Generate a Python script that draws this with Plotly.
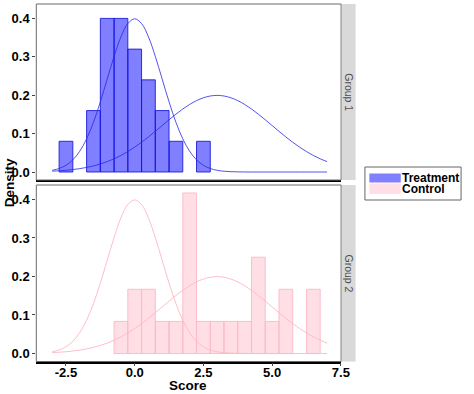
import plotly.graph_objects as go

# ---------------- data ----------------
# Histogram bins (centre of bin, density), bin width 0.5
treat_centers = [-2.5, -1.5, -1.0, -0.5, 0.0, 0.5, 1.0, 1.5, 2.5]
treat_density = [0.08, 0.16, 0.40, 0.40, 0.32, 0.24, 0.16, 0.08, 0.08]

ctrl_centers = [-0.5, 0.0, 0.5, 1.0, 1.5, 2.0, 2.5, 3.0, 3.5, 4.0, 4.5, 5.0, 5.5, 6.5]
ctrl_density = [0.0833, 0.1667, 0.1667, 0.0833, 0.0833, 0.4167, 0.0833, 0.0833,
                0.0833, 0.0833, 0.25, 0.0833, 0.1667, 0.1667]
bin_width = 0.5

# Reference density curves read at x = -3, -2.75, ..., 7
curve_x = [-3.0 + 0.25 * i for i in range(41)]
curve_a = [0.0044, 0.0091, 0.0175, 0.0317, 0.0540, 0.0863, 0.1295, 0.1827, 0.2420,
           0.3011, 0.3521, 0.3867, 0.3989, 0.3867, 0.3521, 0.3011, 0.2420, 0.1827,
           0.1295, 0.0863, 0.0540, 0.0317, 0.0175, 0.0091, 0.0044, 0.0020, 0.0009,
           0.0004, 0.0001, 0.0000, 0.0000, 0.0000, 0.0000, 0.0000, 0.0000, 0.0000,
           0.0000, 0.0000, 0.0000, 0.0000, 0.0000]
curve_b = [0.0022, 0.0032, 0.0045, 0.0064, 0.0088, 0.0119, 0.0159, 0.0209, 0.0270,
           0.0344, 0.0431, 0.0533, 0.0648, 0.0775, 0.0913, 0.1059, 0.1210, 0.1360,
           0.1506, 0.1641, 0.1760, 0.1859, 0.1933, 0.1979, 0.1995, 0.1979, 0.1933,
           0.1859, 0.1760, 0.1641, 0.1506, 0.1360, 0.1210, 0.1059, 0.0913, 0.0775,
           0.0648, 0.0533, 0.0431, 0.0344, 0.0270]

groups = ["Group 1", "Group 2"]
legend_labels = ["Treatment", "Control"]
x_tickvals = [-2.5, 0.0, 2.5, 5.0, 7.5]
x_ticktext = ["-2.5", "0.0", "2.5", "5.0", "7.5"]
y_tickvals = [0.0, 0.1, 0.2, 0.3, 0.4]
y_ticktext = ["0.0", "0.1", "0.2", "0.3", "0.4"]

# ---------------- styling ----------------
W, H = 474, 394
FONT = "Liberation Sans, Arial, sans-serif"
treat_fill = "rgba(0,0,255,0.5)"
treat_line = "rgba(20,20,220,0.85)"
treat_curve = "rgba(40,40,235,0.8)"
ctrl_fill = "rgba(255,192,203,0.5)"
ctrl_line = "rgba(250,185,198,0.9)"
ctrl_curve = "rgba(255,185,198,0.95)"

def px_x(p):
    return p / W

def px_y(p):
    return 1 - p / H

def bold(labels):
    return ["<b>%s</b>" % s for s in labels]

X0, X1 = 37, 347.7
panels = [(4, 180), (185, 361.5)]

fig = go.Figure()

# top panel: Treatment
fig.add_trace(go.Bar(x=treat_centers, y=treat_density, width=bin_width,
                     marker=dict(color=treat_fill, line=dict(color=treat_line, width=1)),
                     xaxis="x", yaxis="y", showlegend=False))
for cy in (curve_a, curve_b):
    fig.add_trace(go.Scatter(x=curve_x, y=cy, mode="lines",
                             line=dict(color=treat_curve, width=1, shape="spline"),
                             xaxis="x", yaxis="y", showlegend=False))

# bottom panel: Control
fig.add_trace(go.Bar(x=ctrl_centers, y=ctrl_density, width=bin_width,
                     marker=dict(color=ctrl_fill, line=dict(color=ctrl_line, width=1)),
                     xaxis="x2", yaxis="y2", showlegend=False))
for cy in (curve_a, curve_b):
    fig.add_trace(go.Scatter(x=curve_x, y=cy, mode="lines",
                             line=dict(color=ctrl_curve, width=1, shape="spline"),
                             xaxis="x2", yaxis="y2", showlegend=False))

xr = [-3.58, 7.51]
yr = [-0.0208, 0.4375]
tickfont = dict(family=FONT, size=13, color="black", weight="bold")

common_x = dict(range=xr, domain=[px_x(X0), px_x(X1)], showgrid=False, zeroline=False,
                showline=True, linecolor="black", linewidth=1.5, mirror=False,
                tickvals=x_tickvals, ticktext=bold(x_ticktext), tickfont=tickfont)
common_y = dict(range=yr, showgrid=False, zeroline=False, showline=False,
                tickvals=y_tickvals, ticktext=bold(y_ticktext), tickfont=tickfont,
                ticks="outside", ticklen=3, tickcolor="#444", tickwidth=1)

fig.update_layout(
    width=W, height=H, margin=dict(l=0, r=0, t=0, b=0),
    paper_bgcolor="white", plot_bgcolor="white",
    barmode="overlay", showlegend=False,
    xaxis=dict(common_x, anchor="y", showticklabels=False, ticks=""),
    yaxis=dict(common_y, anchor="x", domain=[px_y(panels[0][1]), px_y(panels[0][0])]),
    xaxis2=dict(common_x, anchor="y2", ticks="outside", ticklen=3, tickcolor="#444",
                ticklabelstandoff=-5, matches="x"),
    yaxis2=dict(common_y, anchor="x2", domain=[px_y(panels[1][1]), px_y(panels[1][0])]),
)

shapes = []
annotations = []
for i, (top, bot) in enumerate(panels):
    xa = "x domain" if i == 0 else "x2 domain"
    ya = "y domain" if i == 0 else "y2 domain"
    # panel border
    shapes.append(dict(type="rect", xref=xa, yref=ya, x0=0, x1=1, y0=0, y1=1,
                       line=dict(color="#6a6a6a", width=1), layer="above"))
    # strip
    shapes.append(dict(type="rect", xref="paper", yref="paper",
                       x0=px_x(348.5), x1=px_x(362.5), y0=px_y(bot), y1=px_y(top),
                       fillcolor="#D9D9D9", line=dict(width=0)))
    annotations.append(dict(text=groups[i], xref="paper", yref="paper",
                            x=px_x(355.5), y=px_y((top + bot) / 2), textangle=90,
                            showarrow=False, xanchor="center", yanchor="middle",
                            font=dict(family=FONT, size=10.5, color="#4D4D4D")))

# axis titles
annotations.append(dict(text="<b>Density</b>", xref="paper", yref="paper",
                        x=px_x(10), y=px_y(182.5), textangle=-90, showarrow=False,
                        xanchor="center", yanchor="middle",
                        font=dict(family=FONT, size=13.5, color="black")))
annotations.append(dict(text="<b>Score</b>", xref="paper", yref="paper",
                        x=px_x(192), y=px_y(385), showarrow=False,
                        xanchor="center", yanchor="middle", borderpad=0,
                        font=dict(family=FONT, size=13.5, color="black")))

# legend (drawn manually)
shapes.append(dict(type="rect", xref="paper", yref="paper",
                   x0=px_x(372), x1=px_x(470), y0=px_y(200), y1=px_y(167),
                   line=dict(color="#666", width=1), fillcolor="white"))
key_fills = [treat_fill, ctrl_fill]
key_rows = [(173.5, 182.5), (183.5, 194)]
for lab, fill, (t, b) in zip(legend_labels, key_fills, key_rows):
    shapes.append(dict(type="rect", xref="paper", yref="paper",
                       x0=px_x(376.5), x1=px_x(408.5), y0=px_y(b), y1=px_y(t),
                       fillcolor=fill, line=dict(width=0)))
    annotations.append(dict(text="<b>%s</b>" % lab, xref="paper", yref="paper",
                            x=px_x(409), y=px_y((t + b) / 2), showarrow=False,
                            xanchor="left", yanchor="middle", borderpad=0,
                            font=dict(family=FONT, size=12, color="black")))

fig.update_layout(shapes=shapes, annotations=annotations)
fig.write_html("out.html", config={"displayModeBar": False},
               post_script="document.body.style.margin='0';document.body.style.overflow='hidden';")
